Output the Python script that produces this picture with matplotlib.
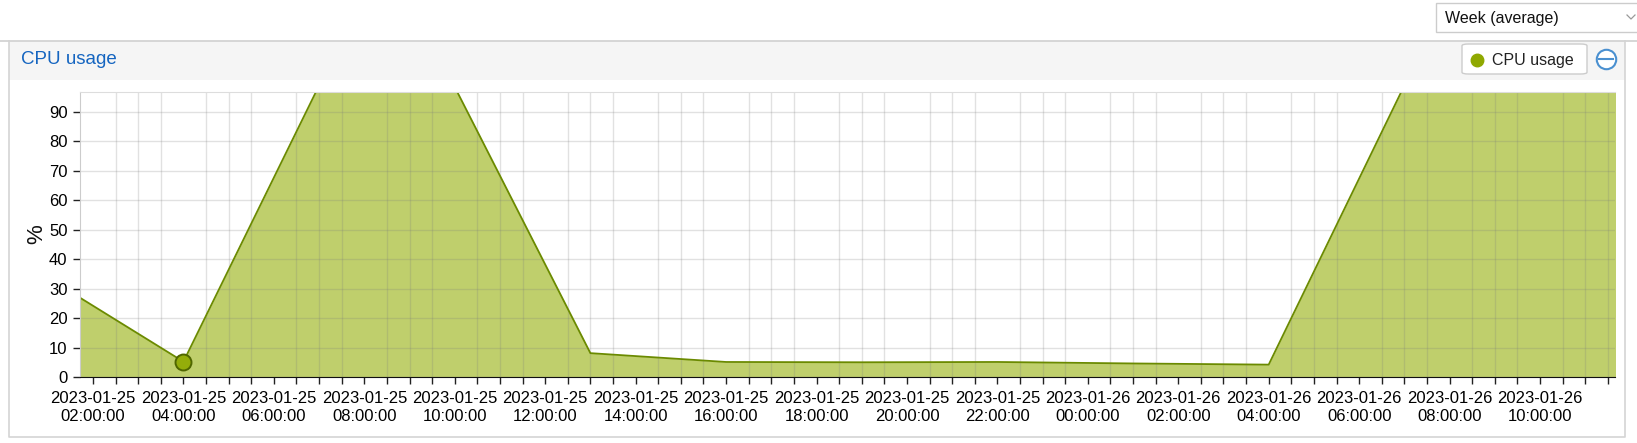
from datetime import datetime
import matplotlib
matplotlib.use('Agg')
import matplotlib.pyplot as plt
import matplotlib.dates as mdates
from matplotlib.patches import Rectangle, FancyBboxPatch
from matplotlib.lines import Line2D

plt.rcParams['font.family'] = ['Liberation Sans', 'DejaVu Sans']

# sampled every 3 hours (week average view)
times = ['2023-01-25 01:00', '2023-01-25 04:00', '2023-01-25 07:00', '2023-01-25 10:00',
         '2023-01-25 13:00', '2023-01-25 16:00', '2023-01-25 19:00', '2023-01-25 22:00',
         '2023-01-26 01:00', '2023-01-26 04:00', '2023-01-26 07:00', '2023-01-26 10:00',
         '2023-01-26 13:00']
cpu = [33.7, 5.2, 99.0, 98.5, 8.1, 5.1, 5.0, 5.1, 4.6, 4.2, 99.0, 99.3, 99.0]
highlight = '2023-01-25 04:00'
x_start = '2023-01-25 01:42:45'
x_end = '2023-01-26 11:39:30'
y_ticks = [0, 10, 20, 30, 40, 50, 60, 70, 80, 90]

W, H = 1637, 443
fx = lambda x: x / W
fy = lambda y: 1 - y / H

t = [datetime.strptime(s, '%Y-%m-%d %H:%M') for s in times]
t_hl = datetime.strptime(highlight, '%Y-%m-%d %H:%M')
v_hl = cpu[times.index(highlight)]

fig = plt.figure(figsize=(W / 100, H / 100), dpi=100)

# page chrome: dropdown, panel header, borders
fig.add_artist(Rectangle((fx(1436), fy(32)), fx(1640) - fx(1436), fy(3) - fy(32),
                         transform=fig.transFigure, fc='white', ec='#cccccc', lw=1))
fig.text(fx(1445), fy(19), 'Week (average)', fontsize=11.5, va='center', color='#111111')
fig.add_artist(Line2D([fx(1627), fx(1631), fx(1635)], [fy(15), fy(19), fy(15)],
                      transform=fig.transFigure, color='#999999', lw=0.9))
fig.add_artist(Rectangle((fx(9), fy(80)), fx(1625) - fx(9), fy(41) - fy(80),
                         transform=fig.transFigure, fc='#f5f5f5', ec='none'))
fig.add_artist(Line2D([0, 1], [fy(41), fy(41)], transform=fig.transFigure, color='#d0d0d0', lw=1.2))
fig.add_artist(Line2D([fx(9), fx(9), fx(1625), fx(1625)], [fy(41), fy(437), fy(437), fy(41)],
                      transform=fig.transFigure, color='#d4d4d4', lw=1.2))
fig.text(fx(21), fy(60), 'CPU usage', fontsize=13.5, va='center', color='#1565c0')

# legend button and collapse icon
fig.add_artist(FancyBboxPatch((fx(1462), fy(74)), fx(1587) - fx(1462), fy(44) - fy(74),
                              boxstyle='round,pad=0,rounding_size=0.004',
                              transform=fig.transFigure, fc='white', ec='#cccccc', lw=1))
fig.add_artist(Line2D([fx(1477)], [fy(60)], transform=fig.transFigure, marker='o',
                      markersize=9, mfc='#8fa800', mec='#8fa800', ls='none'))
fig.text(fx(1492), fy(60.5), 'CPU usage', fontsize=11.5, va='center', color='#222222')
fig.add_artist(Line2D([fx(1606)], [fy(59)], transform=fig.transFigure, marker='o',
                      markersize=14, mfc='white', mec='#4a90d0', mew=1.5, ls='none'))
fig.add_artist(Line2D([fx(1599), fx(1613)], [fy(59), fy(59)], transform=fig.transFigure,
                      color='#4a90d0', lw=1.5))

ax = fig.add_axes([fx(80), fy(377), fx(1615) - fx(80), fy(92) - fy(377)])
ax.fill_between(t, cpu, 0, color='#bfcf6c', lw=0, zorder=1)
ax.plot(t, cpu, color='#6b8a00', lw=1.3, zorder=2)
ax.plot([t_hl], [v_hl], marker='o', markersize=11.5, mfc='#94ad0a', mec='#4f6600',
        mew=1.4, ls='none', zorder=3, clip_on=False)

ax.set_xlim(datetime.strptime(x_start, '%Y-%m-%d %H:%M:%S'),
            datetime.strptime(x_end, '%Y-%m-%d %H:%M:%S'))
ax.set_ylim(0, 96.8)
ax.set_yticks(y_ticks)
ax.xaxis.set_major_locator(mdates.HourLocator(byhour=range(0, 24, 2)))
ax.xaxis.set_minor_locator(mdates.MinuteLocator(byminute=[0, 30]))
ax.xaxis.set_major_formatter(mdates.DateFormatter('%Y-%m-%d\n%H:%M:%S'))

ax.set_axisbelow('line')
ax.grid(True, axis='x', which='minor', color='#7a7a7a', alpha=0.22, lw=1)
ax.grid(True, axis='y', which='major', color='#7a7a7a', alpha=0.22, lw=1)
ax.tick_params(axis='x', which='both', length=5, width=1, color='#222222',
               labelsize=12, pad=5)
ax.tick_params(axis='y', length=5, width=1, color='#222222', labelsize=12, pad=4)
for lab in ax.get_xticklabels():
    lab.set_linespacing(1.3)

ax.spines['bottom'].set_color('#111111')
ax.spines['left'].set_color('#cccccc')
ax.spines['top'].set_color('#dddddd')
ax.spines['right'].set_visible(False)
ax.set_ylabel('%', fontsize=16, labelpad=1, color='#111111')

fig.savefig('out.png', dpi=100)
